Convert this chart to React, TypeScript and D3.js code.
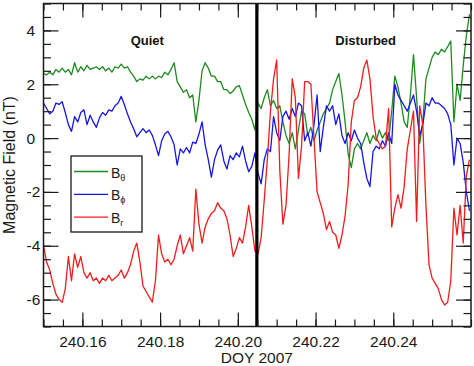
import React, { useEffect, useRef } from "react";
import * as d3 from "d3";

// sampling of the magnetometer series (DOY 2007)
const sampleStart = 240.15;
const sampleStep = 0.0008;

// B_theta (nT)
const bTheta = [
  2.4, 2.35, 2.45, 2.35, 2.55, 2.45, 2.6, 2.45, 2.55, 2.35,
  2.8, 2.45, 2.65, 2.5, 2.7, 2.55, 2.6, 2.65, 2.55, 2.65,
  2.5, 2.6, 2.45, 2.65, 2.6, 2.75, 2.6, 2.65, 2.45, 2.3,
  2.1, 2.2, 2.15, 2.3, 2.2, 2.3, 2.2, 2.3, 2.25, 2.45,
  2.35, 2.55, 2.8, 2.1, 1.9, 1.7, 1.8, 1.5, 1.6, 0.6,
  1.4, 2.5, 2.8, 2.6, 2.3, 2.3, 2.1, 2.1, 1.8, 1.8,
  1.65, 1.75, 1.9, 1.95, 1.6, 1.25, 0.95, 0.7, 0.3, 1.3,
  1.1, 1.5, 1.8, 1.2, 1.4, 1.1, 1.2, 0.6, 0.1, -0.2,
  0.2, -0.4, 0.3, 1.0, 0.9, 0.1, 0.4, -0.1, 0.3, 0.6,
  0.9, 1.1, 1.3, 1.8, 2.1, 2.4, 1.6, 0.6, -0.6, -1.1,
  -0.4, -0.2, -0.4, -0.1, 0.2, -0.2, 0.1, -0.1, 0.3, 0.0,
  0.2, -0.1, 1.0, 2.3, 1.9, 1.3, 0.6, 0.4, 1.6, 3.1,
  1.5, -0.2, 0.6, 2.2, 2.6, 3.0, 3.2, 3.1, 3.3, 3.2,
  3.4, 3.6, 0.6, 2.0, 1.4, 2.7, 3.8, 4.6,
];

// B_phi (nT)
const bPhi = [
  1.3, 1.1, 0.9, 1.0, 1.3, 1.25, 1.35, 0.95, 0.5, 0.25,
  0.8, 0.6, 0.95, 1.05, 0.5, 0.85, 0.6, 0.4, 0.75, 0.95,
  0.85, 1.05, 1.0, 1.2, 1.3, 1.55, 1.25, 0.9, 0.6, 0.35,
  0.05, 0.2, 0.35, 0.2, 0.3, 0.1, -0.25, -0.65, -0.1, 0.15,
  0.25, 0.05, -0.25, -1.0, -0.4, -0.55, -0.35, -0.55, -0.15, -0.2,
  0.15, 0.6, -0.25, -0.8, -1.45, -0.8, -0.45, -0.25, -0.85, -1.15,
  -0.65, -0.8, -0.55, -0.7, -0.3, -0.85, -1.25, -1.05, -0.55, -1.3,
  -1.7, -0.8, -0.4, -0.5, 0.8, 0.2, -0.1, 0.8, 1.0, 0.7,
  1.1, 0.8, 1.3, 1.2, -0.1, 0.2, -0.3, 0.5, 1.6, -0.5,
  0.4, 1.2, 1.0, 1.2, 0.5, 0.9, 0.1, -0.2, 0.2, -0.1,
  0.3, 0.0, -0.2, -0.9, -1.5, -1.8, -0.5, -0.3, -0.4, -0.1,
  -0.3, 0.2, -0.2, 2.0, 1.6, 1.4, 1.2, 1.0, 1.3, 1.6,
  1.0, 0.1, 0.5, 1.3, 1.2, 1.5, 1.3, 1.3, 1.2, 1.1,
  0.9, 0.5, -1.0, 0.0, -0.2, -0.9, -2.0, -2.7,
];

// B_r (nT)
const bR = [
  -4.0, -4.6, -4.9, -5.4, -5.8, -6.0, -6.1, -5.6, -4.4, -5.3,
  -4.3, -4.8, -4.4, -5.0, -5.2, -5.0, -5.3, -5.2, -5.4, -5.2,
  -5.3, -5.1, -5.3, -5.2, -5.1, -4.9, -5.2, -5.0, -4.7, -4.2,
  -3.9, -4.6, -5.5, -5.7, -5.9, -6.1, -5.3, -3.6, -4.3, -4.6,
  -4.5, -4.7, -4.5, -4.0, -3.6, -4.3, -4.0, -3.7, -4.2, -1.9,
  -3.2, -3.9, -3.3, -3.0, -2.8, -2.7, -2.4, -2.6, -2.7, -3.0,
  -3.6, -4.4, -4.1, -3.7, -3.9, -3.3, -2.5, -3.3, -4.2, -4.3,
  -3.7, -2.3, -0.8, 1.0, 2.2, 2.9, -1.2, -3.2, -2.5, -0.6,
  2.2, 1.5, -1.5, -0.3, 2.1, 2.1, 2.0, 0.0, -2.0, -2.4,
  -2.8, -3.4, -3.1, -3.5, -3.6, -4.1, -3.6, -2.9, -1.7, 0.6,
  1.4, 1.5, 1.9, 2.6, 2.9, 2.2, 0.8, 0.0, -0.2, -0.4,
  -0.3, 1.1, -3.3, -2.6, -2.1, -2.6, -1.8, -0.4, 0.3, 1.0,
  -3.1, 1.2, 0.5, -2.5, -4.7, -5.2, -5.4, -5.6, -6.0, -6.2,
  -6.1, -5.3, -2.6, -3.6, -2.5, -3.9, -1.4, -0.8,
];

const seriesValues = [bTheta, bPhi, bR];
const seriesSubs = ["θ", "ϕ", "r"];
const seriesColors = ["#1f8a1f", "#1515e8", "#f21c1c"];

const xTicks = [240.16, 240.18, 240.2, 240.22, 240.24];
const yTicks = [-6, -4, -2, 0, 2, 4];
const boundaryDoy = 240.2049;
const regionLabels = ["Quiet", "Disturbed"];
const regionDoy = [240.1767, 240.2329];

export default function App() {
  const ref = useRef<SVGSVGElement>(null);

  useEffect(() => {
    const svg = d3.select(ref.current);
    svg.selectAll("*").remove();

    const left = 43.5, right = 471, top = 3.5, bottom = 326.5;
    const font = "'Liberation Sans', Arial, Helvetica, sans-serif";
    const ink = "#1a1a1a";

    const x = d3.scaleLinear().domain([240.15, 240.26]).range([left, right]);
    const y = d3.scaleLinear().domain([-7, 5]).range([bottom, top]);

    svg.append("clipPath").attr("id", "plotclip")
      .append("rect")
      .attr("x", left).attr("y", top)
      .attr("width", right - left).attr("height", bottom - top);

    // data lines
    const line = d3.line<number>()
      .x((_, i) => x(sampleStart + i * sampleStep))
      .y(d => y(d));

    const lines = svg.append("g").attr("clip-path", "url(#plotclip)");
    seriesValues.forEach((vals, k) => {
      lines.append("path")
        .datum(vals)
        .attr("d", line)
        .attr("fill", "none")
        .attr("stroke", seriesColors[k])
        .attr("stroke-width", 1.3)
        .attr("stroke-linejoin", "round");
    });

    // quiet / disturbed boundary
    svg.append("line")
      .attr("x1", x(boundaryDoy)).attr("x2", x(boundaryDoy))
      .attr("y1", top).attr("y2", bottom)
      .attr("stroke", "#000").attr("stroke-width", 3.2);

    // axes: major + minor ticks on all four sides, pointing inward
    const xMinor = d3.range(0, 23).map(k => 240.15 + k * 0.005);
    const yMinor = d3.range(0, 25).map(k => -7 + k * 0.5);

    const styleAxis = (g: any) => {
      g.select(".domain").remove();
      g.selectAll("line").attr("stroke", ink).attr("stroke-width", 1.2);
      g.selectAll("text")
        .attr("fill", ink)
        .attr("font-family", font)
        .attr("font-size", 15.5);
    };

    const xb = svg.append("g").attr("transform", `translate(0,${bottom})`)
      .call(d3.axisBottom(x).tickValues(xMinor).tickSize(-7).tickFormat(() => ""));
    styleAxis(xb);
    const xbMajor = svg.append("g").attr("transform", `translate(0,${bottom})`)
      .call(d3.axisBottom(x).tickValues(xTicks).tickSize(-14).tickPadding(9.5)
        .tickFormat(d => d3.format(".2f")(d as number)));
    styleAxis(xbMajor);

    const xt = svg.append("g").attr("transform", `translate(0,${top})`)
      .call(d3.axisTop(x).tickValues(xMinor).tickSize(-7).tickFormat(() => ""));
    styleAxis(xt);
    const xtMajor = svg.append("g").attr("transform", `translate(0,${top})`)
      .call(d3.axisTop(x).tickValues(xTicks).tickSize(-14).tickFormat(() => ""));
    styleAxis(xtMajor);

    const yl = svg.append("g").attr("transform", `translate(${left},0)`)
      .call(d3.axisLeft(y).tickValues(yMinor).tickSize(-7.5).tickFormat(() => ""));
    styleAxis(yl);
    const ylMajor = svg.append("g").attr("transform", `translate(${left},0)`)
      .call(d3.axisLeft(y).tickValues(yTicks).tickSize(-15).tickFormat(d => String(d)));
    styleAxis(ylMajor);
    ylMajor.selectAll("text").attr("text-anchor", "start").attr("x", -17);

    const yr = svg.append("g").attr("transform", `translate(${right},0)`)
      .call(d3.axisRight(y).tickValues(yMinor).tickSize(-7.5).tickFormat(() => ""));
    styleAxis(yr);
    const yrMajor = svg.append("g").attr("transform", `translate(${right},0)`)
      .call(d3.axisRight(y).tickValues(yTicks).tickSize(-15).tickFormat(() => ""));
    styleAxis(yrMajor);

    // frame
    svg.append("rect")
      .attr("x", left).attr("y", top)
      .attr("width", right - left).attr("height", bottom - top)
      .attr("fill", "none").attr("stroke", ink).attr("stroke-width", 1.5);

    // axis titles
    svg.append("text")
      .attr("transform", `translate(15,${(top + bottom) / 2}) rotate(-90)`)
      .attr("text-anchor", "middle")
      .attr("font-family", font).attr("font-size", 16).attr("fill", ink)
      .text("Magnetic Field (nT)");

    svg.append("text")
      .attr("x", x(240.2049)).attr("y", 363)
      .attr("text-anchor", "middle")
      .attr("font-family", font).attr("font-size", 15.5).attr("fill", ink)
      .text("DOY 2007");

    // region labels
    regionLabels.forEach((lab, k) => {
      svg.append("text")
        .attr("x", x(regionDoy[k])).attr("y", 45)
        .attr("text-anchor", "middle")
        .attr("font-family", font).attr("font-size", 13)
        .attr("font-weight", "bold").attr("fill", "#111")
        .text(lab);
    });

    // legend
    const lg = svg.append("g");
    lg.append("rect")
      .attr("x", 71).attr("y", 156).attr("width", 71).attr("height", 76)
      .attr("fill", "#fff").attr("stroke", ink).attr("stroke-width", 1.3);
    seriesSubs.forEach((sub, k) => {
      const yy = 171.5 + k * 22.8;
      lg.append("line")
        .attr("x1", 74).attr("x2", 108).attr("y1", yy).attr("y2", yy)
        .attr("stroke", seriesColors[k]).attr("stroke-width", 1.3);
      const t = lg.append("text")
        .attr("x", 111).attr("y", yy + 6)
        .attr("font-family", font).attr("font-size", 14).attr("fill", ink);
      t.append("tspan").text("B");
      t.append("tspan").attr("font-size", 9).attr("dy", 3).text(sub);
    });
  }, []);

  return (
    <svg
      ref={ref}
      width={474}
      height={366}
      style={{ position: "absolute", left: 0, top: 0, background: "#fff" }}
    />
  );
}
